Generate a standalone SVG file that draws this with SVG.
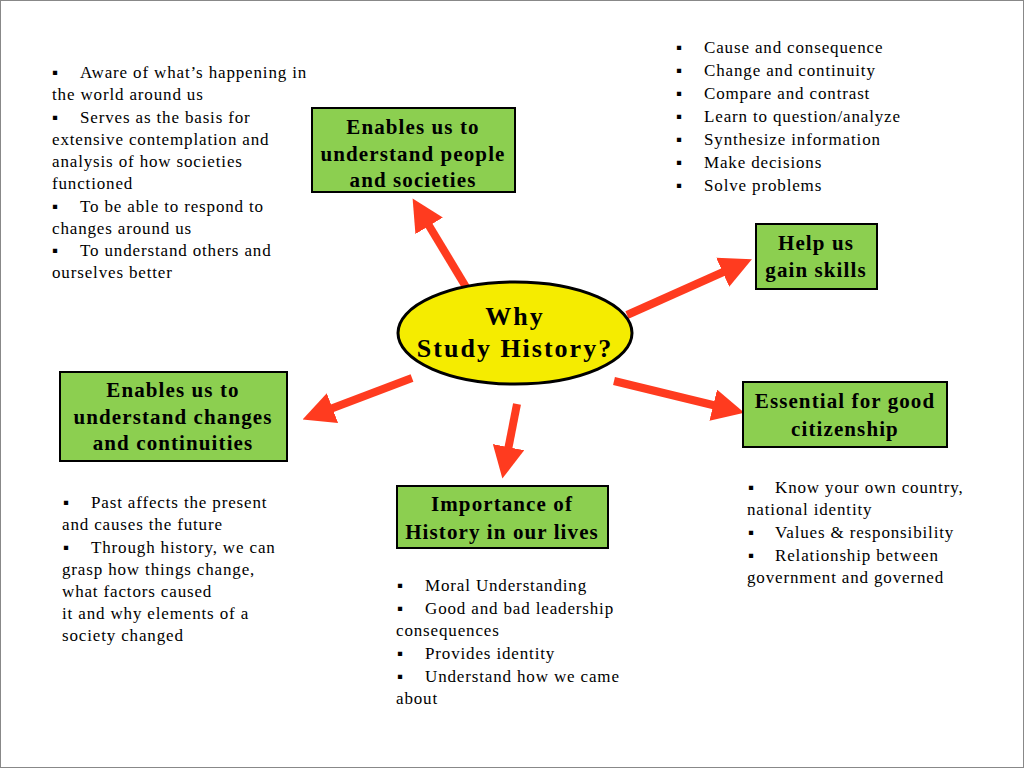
<svg xmlns="http://www.w3.org/2000/svg" width="1024" height="768" viewBox="0 0 1024 768">
<defs>
<style>
.box{fill:#8ccf50;stroke:#000;stroke-width:2}
.bt{font-family:"Liberation Serif",serif;font-weight:bold;font-size:21px;letter-spacing:1.1px;text-anchor:middle;fill:#000}
.ct{font-family:"Liberation Serif",serif;font-weight:bold;font-size:26px;letter-spacing:2px;text-anchor:middle;fill:#000}
.t{font-family:"Liberation Serif",serif;font-size:17px;letter-spacing:0.85px;fill:#000}
.arr{stroke:#ff3b1f;stroke-width:8;fill:none;marker-end:url(#ah)}
</style>
<marker id="ah" markerUnits="strokeWidth" markerWidth="4" markerHeight="4" refX="1" refY="2" orient="auto" viewBox="0 0 4 4">
<polygon points="0,0 4,2 0,4" fill="#ff3b1f"/>
</marker>
</defs>
<rect x="0.5" y="0.5" width="1023" height="767" fill="#fff" stroke="#888"/>
<g id="connectors">
<line class="arr" x1="466" y1="287" x2="425" y2="219"/>
<line class="arr" x1="627" y1="315" x2="730" y2="269"/>
<line class="arr" x1="412" y1="378" x2="325" y2="411"/>
<line class="arr" x1="517" y1="404" x2="507" y2="455"/>
<line class="arr" x1="614" y1="381" x2="721" y2="407"/>
</g>
<g id="center">
<ellipse cx="515" cy="333" rx="117" ry="51" fill="#f5ec00" stroke="#000" stroke-width="3"/>
<text class="ct" x="515" y="325">Why</text>
<text class="ct" x="515" y="357">Study History?</text>
</g>
<g id="people">
<rect class="box" x="312" y="108" width="203" height="84"/>
<text class="bt" x="413" y="134">Enables us to</text>
<text class="bt" x="413" y="161">understand people</text>
<text class="bt" x="413" y="187">and societies</text>
</g>
<g id="skills">
<rect class="box" x="756" y="224" width="121" height="65"/>
<text class="bt" x="816" y="250">Help us</text>
<text class="bt" x="816" y="277">gain skills</text>
</g>
<g id="changes">
<rect class="box" x="60" y="372" width="227" height="89"/>
<text class="bt" x="173" y="397">Enables us to</text>
<text class="bt" x="173" y="424">understand changes</text>
<text class="bt" x="173" y="450">and continuities</text>
</g>
<g id="importance">
<rect class="box" x="397" y="486" width="211" height="62"/>
<text class="bt" x="502" y="511">Importance of</text>
<text class="bt" x="502" y="539">History in our lives</text>
</g>
<g id="citizenship">
<rect class="box" x="743" y="382" width="204" height="65"/>
<text class="bt" x="845" y="408">Essential for good</text>
<text class="bt" x="845" y="436">citizenship</text>
</g>
<g id="text-topleft" class="t">
<text x="52" y="78">▪ <tspan x="80">Aware of what’s happening in</tspan></text>
<text x="52" y="100">the world around us</text>
<text x="52" y="123">▪ <tspan x="80">Serves as the basis for</tspan></text>
<text x="52" y="145">extensive contemplation and</text>
<text x="52" y="167">analysis of how societies</text>
<text x="52" y="189">functioned</text>
<text x="52" y="212">▪ <tspan x="80">To be able to respond to</tspan></text>
<text x="52" y="234">changes around us</text>
<text x="52" y="256">▪ <tspan x="80">To understand others and</tspan></text>
<text x="52" y="278">ourselves better</text>
</g>
<g id="text-topright" class="t">
<text x="676" y="53">▪ <tspan x="704">Cause and consequence</tspan></text>
<text x="676" y="76">▪ <tspan x="704">Change and continuity</tspan></text>
<text x="676" y="99">▪ <tspan x="704">Compare and contrast</tspan></text>
<text x="676" y="122">▪ <tspan x="704">Learn to question/analyze</tspan></text>
<text x="676" y="145">▪ <tspan x="704">Synthesize information</tspan></text>
<text x="676" y="168">▪ <tspan x="704">Make decisions</tspan></text>
<text x="676" y="191">▪ <tspan x="704">Solve problems</tspan></text>
</g>
<g id="text-bottomleft" class="t">
<text x="63" y="508">▪ <tspan x="91">Past affects the present</tspan></text>
<text x="62" y="530">and causes the future</text>
<text x="63" y="553">▪ <tspan x="91">Through history, we can</tspan></text>
<text x="62" y="575">grasp how things change,</text>
<text x="62" y="597">what factors caused</text>
<text x="62" y="619">it and why elements of a</text>
<text x="62" y="641">society changed</text>
</g>
<g id="text-bottomcenter" class="t">
<text x="397" y="591">▪ <tspan x="425">Moral Understanding</tspan></text>
<text x="397" y="614">▪ <tspan x="425">Good and bad leadership</tspan></text>
<text x="396" y="636">consequences</text>
<text x="397" y="659">▪ <tspan x="425">Provides identity</tspan></text>
<text x="397" y="682">▪ <tspan x="425">Understand how we came</tspan></text>
<text x="396" y="704">about</text>
</g>
<g id="text-bottomright" class="t">
<text x="748" y="493">▪ <tspan x="775">Know your own country,</tspan></text>
<text x="747" y="515">national identity</text>
<text x="748" y="538">▪ <tspan x="775">Values &amp; responsibility</tspan></text>
<text x="748" y="561">▪ <tspan x="775">Relationship between</tspan></text>
<text x="747" y="583">government and governed</text>
</g>
</svg>
